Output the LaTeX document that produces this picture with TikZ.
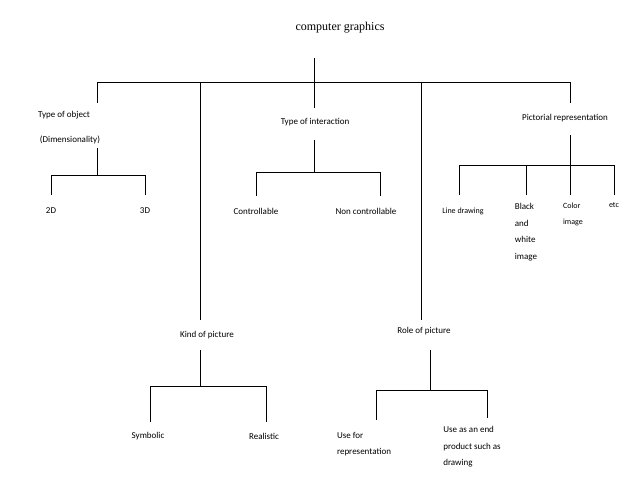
\documentclass[tikz,border=0pt]{standalone}
\usepackage{fontspec}
\newfontfamily\carfont{Carlito}
\newfontfamily\titfont{Liberation Serif}
\begin{document}
\begin{tikzpicture}[x=1pt,y=-1pt,
  lbl/.style={font=\carfont\fontsize{9}{10}\selectfont,inner sep=1pt},
  ln/.style={line width=0.8pt}]
\useasboundingbox (0,0) rectangle (638,478);
\node (title) at (340,28) {\titfont\fontsize{12}{14}\selectfont computer graphics};
% top tree
\coordinate (t0) at (314,58); \coordinate (t1) at (314,82);
\coordinate (hl) at (97,82); \coordinate (hr) at (570,82);
\coordinate (k0) at (200,82); \coordinate (r0) at (421,82);
\node[lbl] (obj) at (64,115) {Type of object};
\node[lbl] (dim) at (70,140) {(Dimensionality)};
\node[lbl] (inter) at (315,122) {Type of interaction};
\node[lbl] (pict) at (565,118) {Pictorial representation};
\node[lbl] (kind) at (207,335) {Kind of picture};
\node[lbl] (role) at (424,331) {Role of picture};
\draw[ln] (t0) -- (t1);
\draw[ln] (hl) -- (hr);
\draw[ln] (hl) -- (97,103);
\draw[ln] (k0) -- (200,320);
\draw[ln] (t1) -- (314,108);
\draw[ln] (r0) -- (421,320);
\draw[ln] (hr) -- (570,103);
% dimensionality
\node[lbl] (d2) at (51,211) {2D};
\node[lbl] (d3) at (145,211) {3D};
\draw[ln] (97,148) -- (97,175);
\draw[ln] (51,195) -- (51,175) -- (145,175) -- (145,195);
% interaction
\node[lbl] (ctrl) at (256,211) {Controllable};
\node[lbl] (nctrl) at (366,211) {Non controllable};
\draw[ln] (314,140) -- (314,172);
\draw[ln] (256,196) -- (256,172) -- (380,172) -- (380,196);
% pictorial
\node[lbl,font=\carfont\fontsize{8}{9}\selectfont] (line) at (463,211) {Line drawing};
\node[lbl,align=left,font=\carfont\fontsize{9}{16.5}\selectfont] (bw) at (526,232) {Black\\and\\white\\image};
\node[lbl,align=left,font=\carfont\fontsize{8}{16}\selectfont] (col) at (573,214) {Color\\image};
\node[lbl,font=\carfont\fontsize{8}{9}\selectfont] (etc) at (614,205) {etc};
\draw[ln] (570,135) -- (570,165);
\draw[ln] (459,195) -- (459,165) -- (614,165) -- (614,195);
\draw[ln] (526,165) -- (526,195);
\draw[ln] (570,165) -- (570,195);
% kind
\node[lbl] (sym) at (148,436) {Symbolic};
\node[lbl] (real) at (264,436) {Realistic};
\draw[ln] (200,350) -- (200,386);
\draw[ln] (150,422) -- (150,386) -- (266,386) -- (266,422);
% role
\node[lbl,align=left,font=\carfont\fontsize{9}{16.5}\selectfont] (use) at (364,444) {Use for\\representation};
\node[lbl,align=left,font=\carfont\fontsize{9}{16.5}\selectfont] (end) at (472,447) {Use as an end\\product such as\\drawing};
\draw[ln] (430,350) -- (430,390);
\draw[ln] (376,420) -- (376,390) -- (487,390) -- (487,418);
\end{tikzpicture}
\end{document}
